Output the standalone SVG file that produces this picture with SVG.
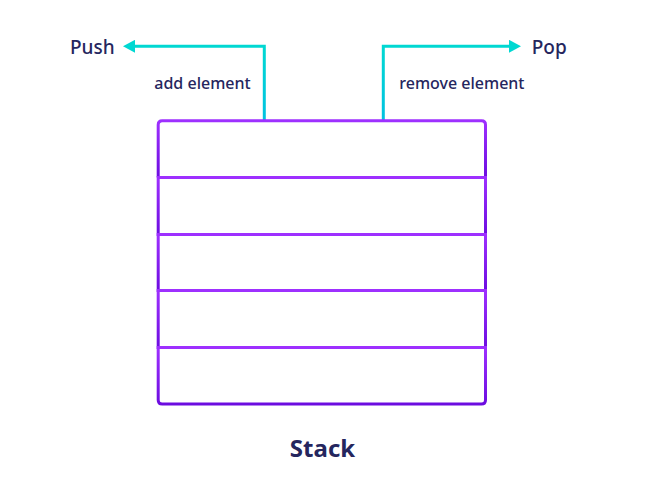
<svg xmlns="http://www.w3.org/2000/svg" width="654" height="490" viewBox="0 0 654 490">
  <defs>
    <linearGradient id="cellGrad" x1="0" y1="0" x2="0" y2="1">
      <stop offset="0" stop-color="#9e30ff"/>
      <stop offset="1" stop-color="#6c0ce0"/>
    </linearGradient>
    <linearGradient id="cyanGrad" gradientUnits="userSpaceOnUse" x1="0" y1="46" x2="0" y2="120">
      <stop offset="0" stop-color="#00d8d2"/>
      <stop offset="1" stop-color="#00c2e0"/>
    </linearGradient>
    <marker id="arrow" viewBox="0 0 12 13" refX="1" refY="6.5" markerWidth="12" markerHeight="13" markerUnits="userSpaceOnUse" orient="auto">
      <path d="M0,0 L12,6.5 L0,13 Z" fill="#00d8d2"/>
    </marker>
    <style>
      .cell { fill: none; stroke: url(#cellGrad); stroke-width: 3; }
      .conn { fill: none; stroke: url(#cyanGrad); stroke-width: 3; }
      .label { font-family: "Noto Sans", "Liberation Sans", sans-serif; fill: #25265e; }
      .small { font-size: 16px; font-weight: 500; }
      .big { font-size: 19px; font-weight: 500; }
      .title { font-size: 24px; font-weight: 700; }
    </style>
  </defs>

  <g id="connectors">
    <path class="conn" d="M264.3,120 L264.3,46.3 L134,46.3" marker-end="url(#arrow)"/>
    <path class="conn" d="M383.3,120 L383.3,46.3 L510,46.3" marker-end="url(#arrow)"/>
  </g>

  <g id="stack">
    <path id="cell1" class="cell" d="M158.2,177.5 L158.2,124.8 Q158.2,120.8 162.2,120.8 L481.5,120.8 Q485.5,120.8 485.5,124.8 L485.5,177.5"/>
    <rect id="cell2" class="cell" x="158.2" y="177.5" width="327.3" height="57"/>
    <rect id="cell3" class="cell" x="158.2" y="234.5" width="327.3" height="56"/>
    <rect id="cell4" class="cell" x="158.2" y="290.5" width="327.3" height="57"/>
    <path id="cell5" class="cell" d="M158.2,347.5 L485.5,347.5 L485.5,400 Q485.5,404 481.5,404 L162.2,404 Q158.2,404 158.2,400 Z"/>
  </g>

  <g id="push">
    <text class="label big" x="70" y="54">Push</text>
    <text class="label small" x="154.3" y="89">add element</text>
  </g>
  <g id="pop">
    <text class="label big" x="531.7" y="54">Pop</text>
    <text class="label small" x="399.3" y="89">remove element</text>
  </g>
  <g id="title">
    <text class="label title" x="322.5" y="457" text-anchor="middle">Stack</text>
  </g>
</svg>
